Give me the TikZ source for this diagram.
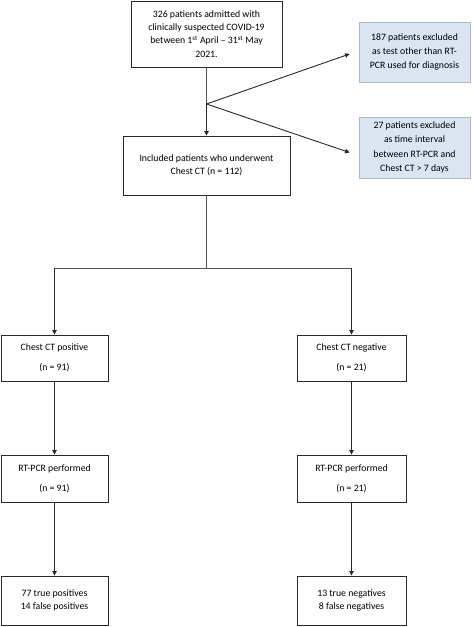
\documentclass[tikz,border=0pt]{standalone}
\usepackage{fontspec}
\setmainfont{Carlito}
\usetikzlibrary{arrows.meta}
\definecolor{bluefill}{RGB}{219,229,242}
\definecolor{blueline}{RGB}{168,184,208}
\definecolor{linec}{RGB}{40,40,40}
\tikzset{
  box/.style={draw=linec, line width=0.9bp, align=center, inner sep=1bp, font=\fontsize{9.8}{13.3}\selectfont},
  bluebox/.style={box, draw=blueline, fill=bluefill, font=\fontsize{9.8}{14.5}\selectfont},
  arr/.style={draw=linec, line width=0.9bp, -{Triangle[width=4.5bp,length=4.5bp]}},
  ln/.style={draw=linec!80, line width=0.9bp}
}
\begin{document}
\begin{tikzpicture}[x=1bp,y=-1bp]
\useasboundingbox (0,0) rectangle (474,627);
\node[box, minimum width=151bp, minimum height=66bp] (top) at (206.5,34)
  {326 patients admitted with\\clinically suspected COVID-19\\between 1\textsuperscript{st} April – 31\textsuperscript{st} May\\2021.};
\node[bluebox, minimum width=111bp, minimum height=60bp] (ex1) at (414.5,52)
  {187 patients excluded\\as test other than RT-\\PCR used for diagnosis};
\node[bluebox, minimum width=111bp, minimum height=61bp] (ex2) at (414.5,147.5)
  {27 patients excluded\\as time interval\\between RT-PCR and\\Chest CT > 7 days};
\node[box, minimum width=167bp, minimum height=59bp] (inc) at (206.5,165.5)
  {Included patients who underwent\\Chest CT (n = 112)};
\coordinate (br) at (206.5,104);
\coordinate (sp) at (206.5,268);
\coordinate (spl) at (54.5,268);
\coordinate (spr) at (351.5,268);
\node[box, minimum width=107bp, minimum height=46bp] (pos) at (54.5,358)
  {Chest CT positive\\[7bp](n = 91)};
\node[box, minimum width=109bp, minimum height=46bp] (neg) at (351.5,358)
  {Chest CT negative\\[7bp](n = 21)};
\node[box, minimum width=107bp, minimum height=47bp] (rt1) at (54.5,478.5)
  {RT-PCR performed\\[7bp](n = 91)};
\node[box, minimum width=109bp, minimum height=47bp] (rt2) at (351.5,478.5)
  {RT-PCR performed\\[7bp](n = 21)};
\node[box, minimum width=107bp, minimum height=49bp] (res1) at (54.5,600.5)
  {77 true positives\\14 false positives};
\node[box, minimum width=109bp, minimum height=49bp] (res2) at (351.5,600.5)
  {13 true negatives\\8 false negatives};
\draw[ln] (top.south) -- (br);
\draw[arr] (br) -- (inc.north);
\draw[arr] (br) -- ([xshift=-9bp,yshift=-2bp]ex1.west);
\draw[arr] (br) -- ([xshift=-9bp,yshift=-5bp]ex2.west);
\draw[ln] (inc.south) -- (sp);
\draw[ln] (spl) -- (spr);
\draw[arr] (spl) -- (pos.north);
\draw[arr] (spr) -- (neg.north);
\draw[arr] (pos.south) -- (rt1.north);
\draw[arr] (neg.south) -- (rt2.north);
\draw[arr] (rt1.south) -- (res1.north);
\draw[arr] (rt2.south) -- (res2.north);
\end{tikzpicture}
\end{document}
